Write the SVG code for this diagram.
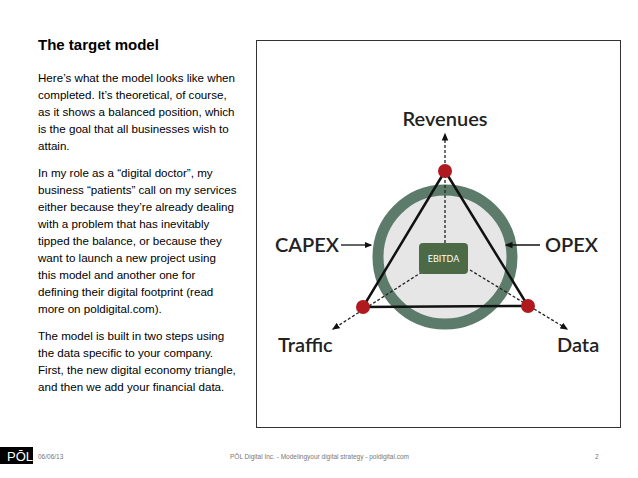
<svg xmlns="http://www.w3.org/2000/svg" width="638" height="478" viewBox="0 0 638 478">
<style>
.t{font-family:"Liberation Sans",sans-serif;font-size:11.6px;fill:#000}
.lb{font-family:"Lato","Liberation Sans",sans-serif;font-size:20px;fill:#222;font-weight:600}
.f{font-family:"Liberation Sans",sans-serif;font-size:6.5px;fill:#777}
.d{stroke:#222;stroke-width:1.3;stroke-dasharray:3 2;fill:none}
.s{stroke:#111;stroke-width:1.3;fill:none}
</style>
<defs><marker id="a" markerWidth="6" markerHeight="6" refX="5" refY="3" orient="auto"><path d="M0,0.5 L6,3 L0,5.5z" fill="#111"/></marker></defs>
<rect width="638" height="478" fill="#fff"/>
<text x="38" y="50" style="font-family:'Liberation Sans',sans-serif;font-size:15px;font-weight:bold">The target model</text>
<g class="t">
<text x="38" y="82">Here’s what the model looks like when</text>
<text x="38" y="99">completed. It’s theoretical, of course,</text>
<text x="38" y="116">as it shows a balanced position, which</text>
<text x="38" y="133">is the goal that all businesses wish to</text>
<text x="38" y="150">attain.</text>
<text x="38" y="177">In my role as a “digital doctor”, my</text>
<text x="38" y="194">business “patients” call on my services</text>
<text x="38" y="211">either because they’re already dealing</text>
<text x="38" y="228">with a problem that has inevitably</text>
<text x="38" y="245">tipped the balance, or because they</text>
<text x="38" y="262">want to launch a new project using</text>
<text x="38" y="279">this model and another one for</text>
<text x="38" y="296">defining their digital footprint (read</text>
<text x="38" y="313">more on poldigital.com).</text>
<text x="38" y="340">The model is built in two steps using</text>
<text x="38" y="357">the data specific to your company.</text>
<text x="38" y="374">First, the new digital economy triangle,</text>
<text x="38" y="391">and then we add your financial data.</text>
</g>
<rect x="256.5" y="40.5" width="364" height="387" fill="none" stroke="#333" stroke-width="1"/>
<g id="ring"><circle cx="445" cy="257" r="67" fill="#e6e6e6" stroke="#5c7b6b" stroke-width="11"/></g>
<g id="connectors">
<line class="d" x1="445" y1="243" x2="445" y2="134" marker-end="url(#a)"/>
<line class="d" x1="422" y1="272" x2="333" y2="329" marker-end="url(#a)"/>
<line class="d" x1="470" y1="270" x2="567" y2="329" marker-end="url(#a)"/>
<path d="M445,171 L363,307 L528,306 Z" stroke="#111" stroke-width="2.5" fill="none"/>
<line class="s" x1="341" y1="245" x2="371" y2="245" marker-end="url(#a)"/>
<line class="s" x1="540" y1="245" x2="506" y2="245" marker-end="url(#a)"/>
</g>
<g id="ebitda"><rect x="419" y="243" width="49" height="31" rx="4" fill="#4c6a45"/><text x="443.5" y="262" text-anchor="middle" style="font-family:'Lato','Liberation Sans',sans-serif;font-size:9px;fill:#fff">EBITDA</text></g>
<g id="dots" fill="#b01a1e"><circle cx="445" cy="171" r="7"/><circle cx="363" cy="307" r="7"/><circle cx="528" cy="306" r="7"/></g>
<g id="labels" class="lb">
<text x="445" y="126" text-anchor="middle" class="lb">Revenues</text>
<text x="275" y="252" class="lb">CAPEX</text>
<text x="545" y="252" class="lb">OPEX</text>
<text x="278" y="352" class="lb">Traffic</text>
<text x="557" y="352" class="lb">Data</text>
</g>
<rect x="0" y="447" width="33" height="17" fill="#000"/>
<text x="7" y="461" style="font-family:'Liberation Sans',sans-serif;font-size:13px;fill:#fff">PŌL</text>
<text x="38" y="459" class="f">06/06/13</text>
<text x="230" y="459" class="f">PŌL Digital Inc. - Modelingyour digital strategy - poldigital.com</text>
<text x="595" y="459" class="f">2</text>
</svg>
